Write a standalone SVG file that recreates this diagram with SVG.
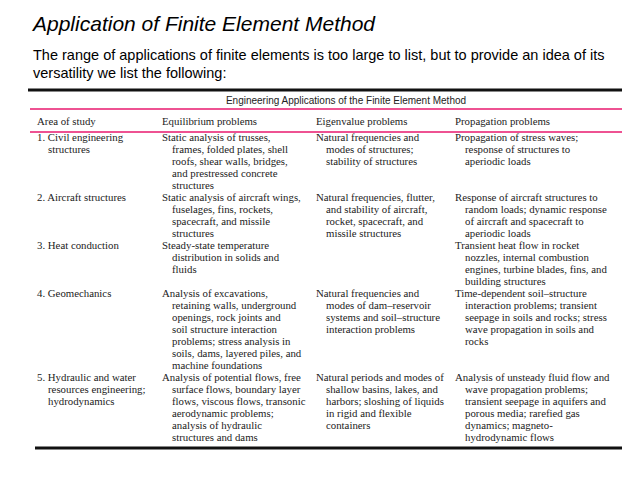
<svg xmlns="http://www.w3.org/2000/svg" width="638" height="478" viewBox="0 0 638 478">
<style>
.t{font-family:"Liberation Serif",serif;font-size:10.8px;fill:#222}
.h{font-family:"Liberation Sans",Arial,sans-serif;fill:#000}
</style>
<rect width="638" height="478" fill="#fff"/>
<text class="h" x="33" y="31" font-size="21" font-style="italic">Application of Finite Element Method</text>
<text class="h" x="33" y="60" font-size="14.5">The range of applications of finite elements is too large to list, but to provide an idea of its</text>
<text class="h" x="33" y="78" font-size="14.5">versatility we list the following:</text>
<g id="rules">
<line x1="28" y1="90" x2="622" y2="90" stroke="#111" stroke-width="3"/>
<line x1="30" y1="109" x2="622" y2="109" stroke="#e8186e" stroke-width="1.6"/>
<line x1="30" y1="132" x2="622" y2="132" stroke="#e8186e" stroke-width="1.6"/>
<line x1="35" y1="448" x2="622" y2="448" stroke="#111" stroke-width="3"/>
</g>
<text x="346" y="104" text-anchor="middle" style="font-family:'Liberation Sans',sans-serif;font-size:10px;fill:#222">Engineering Applications of the Finite Element Method</text>
<g class="t">
<text x="37" y="125">Area of study</text><text x="162" y="125">Equilibrium problems</text><text x="316" y="125">Eigenvalue problems</text><text x="455" y="125">Propagation problems</text>
<text x="37" y="141">1.  Civil engineering</text><text x="48" y="153">structures</text>
<text x="162" y="141">Static analysis of trusses,</text><text x="172" y="153">frames, folded plates, shell</text><text x="172" y="165">roofs, shear walls, bridges,</text><text x="172" y="177">and prestressed concrete</text><text x="172" y="189">structures</text>
<text x="316" y="141">Natural frequencies and</text><text x="326" y="153">modes of structures;</text><text x="326" y="165">stability of structures</text>
<text x="455" y="141">Propagation of stress waves;</text><text x="465" y="153">response of structures to</text><text x="465" y="165">aperiodic loads</text>
<text x="37" y="201">2.  Aircraft structures</text>
<text x="162" y="201">Static analysis of aircraft wings,</text><text x="172" y="213">fuselages, fins, rockets,</text><text x="172" y="225">spacecraft, and missile</text><text x="172" y="237">structures</text>
<text x="316" y="201">Natural frequencies, flutter,</text><text x="326" y="213">and stability of aircraft,</text><text x="326" y="225">rocket, spacecraft, and</text><text x="326" y="237">missile structures</text>
<text x="455" y="201">Response of aircraft structures to</text><text x="465" y="213">random loads; dynamic response</text><text x="465" y="225">of aircraft and spacecraft to</text><text x="465" y="237">aperiodic loads</text>
<text x="37" y="249">3.  Heat conduction</text>
<text x="162" y="249">Steady-state temperature</text><text x="172" y="261">distribution in solids and</text><text x="172" y="273">fluids</text>
<text x="455" y="249">Transient heat flow in rocket</text><text x="465" y="261">nozzles, internal combustion</text><text x="465" y="273">engines, turbine blades, fins, and</text><text x="465" y="285">building structures</text>
<text x="37" y="297">4.  Geomechanics</text>
<text x="162" y="297">Analysis of excavations,</text><text x="172" y="309">retaining walls, underground</text><text x="172" y="321">openings, rock joints and</text><text x="172" y="333">soil structure interaction</text><text x="172" y="345">problems; stress analysis in</text><text x="172" y="357">soils, dams, layered piles, and</text><text x="172" y="369">machine foundations</text>
<text x="316" y="297">Natural frequencies and</text><text x="326" y="309">modes of dam–reservoir</text><text x="326" y="321">systems and soil–structure</text><text x="326" y="333">interaction problems</text>
<text x="455" y="297">Time-dependent soil–structure</text><text x="465" y="309">interaction problems; transient</text><text x="465" y="321">seepage in soils and rocks; stress</text><text x="465" y="333">wave propagation in soils and</text><text x="465" y="345">rocks</text>
<text x="37" y="381">5.  Hydraulic and water</text><text x="48" y="393">resources engineering;</text><text x="48" y="405">hydrodynamics</text>
<text x="162" y="381">Analysis of potential flows, free</text><text x="172" y="393">surface flows, boundary layer</text><text x="172" y="405">flows, viscous flows, transonic</text><text x="172" y="417">aerodynamic problems;</text><text x="172" y="429">analysis of hydraulic</text><text x="172" y="441">structures and dams</text>
<text x="316" y="381">Natural periods and modes of</text><text x="326" y="393">shallow basins, lakes, and</text><text x="326" y="405">harbors; sloshing of liquids</text><text x="326" y="417">in rigid and flexible</text><text x="326" y="429">containers</text>
<text x="455" y="381">Analysis of unsteady fluid flow and</text><text x="465" y="393">wave propagation problems;</text><text x="465" y="405">transient seepage in aquifers and</text><text x="465" y="417">porous media; rarefied gas</text><text x="465" y="429">dynamics; magneto-</text><text x="465" y="441">hydrodynamic flows</text>
</g>
</svg>
